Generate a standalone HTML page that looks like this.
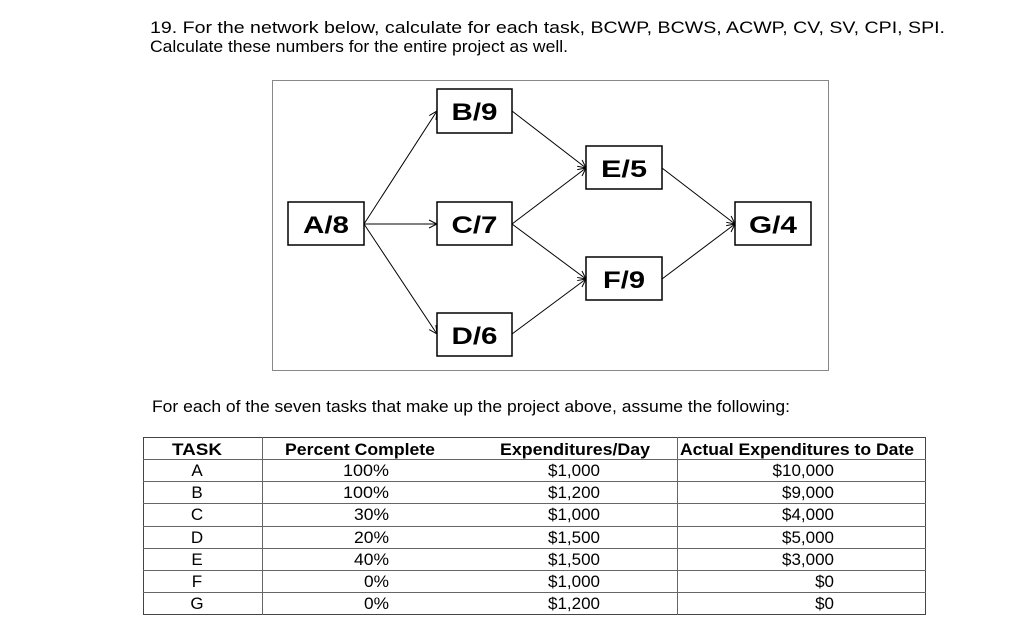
<!DOCTYPE html>
<html><head><meta charset="utf-8"><style>
html,body{margin:0;padding:0;background:#fff;}
svg{display:block;font-family:"Liberation Sans",Arial,sans-serif;}
</style></head><body>
<svg width="1024" height="634" viewBox="0 0 1024 634" xmlns="http://www.w3.org/2000/svg">
<defs><marker id="ar" markerWidth="10" markerHeight="10" refX="9" refY="5" orient="auto" markerUnits="userSpaceOnUse"><path d="M1,1 L9,5 L1,9" fill="none" stroke="#000" stroke-width="1"/></marker></defs>
<g font-size="17" fill="#000">
<text x="150" y="33" textLength="795" lengthAdjust="spacingAndGlyphs">19.  For the network below, calculate for each task, BCWP, BCWS, ACWP, CV, SV, CPI, SPI.</text>
<text x="150" y="52" textLength="418" lengthAdjust="spacingAndGlyphs">Calculate these numbers for the entire project as well.</text>
<text x="152" y="412" textLength="638" lengthAdjust="spacingAndGlyphs">For each of the seven tasks that make up the project above, assume the following:</text>
</g>
<rect x="272.5" y="80.5" width="556" height="290" fill="none" stroke="#888" stroke-width="1"/>
<g stroke="#000" stroke-width="1" fill="none" marker-end="url(#ar)">
<line x1="364" y1="224" x2="437" y2="111"/>
<line x1="364" y1="224" x2="437" y2="224"/>
<line x1="364" y1="224" x2="437" y2="334"/>
<line x1="512" y1="111" x2="586" y2="168"/>
<line x1="512" y1="224" x2="586" y2="168"/>
<line x1="512" y1="224" x2="586" y2="279"/>
<line x1="512" y1="334" x2="586" y2="279"/>
<line x1="662" y1="168" x2="735" y2="224"/>
<line x1="662" y1="279" x2="735" y2="224"/>
</g>
<g stroke="#000" stroke-width="1.5" fill="#fff">
<rect x="288" y="202" width="76" height="43"/>
<rect x="437" y="89" width="75" height="44"/>
<rect x="437" y="202" width="75" height="43"/>
<rect x="437" y="313" width="75" height="43"/>
<rect x="586" y="146" width="76" height="43"/>
<rect x="586" y="257" width="76" height="43"/>
<rect x="735" y="202" width="76" height="43"/>
</g>
<g font-size="24" font-weight="bold" text-anchor="middle">
<text x="326" y="233" textLength="46" lengthAdjust="spacingAndGlyphs">A/8</text>
<text x="474.5" y="120" textLength="46" lengthAdjust="spacingAndGlyphs">B/9</text>
<text x="474.5" y="233" textLength="46" lengthAdjust="spacingAndGlyphs">C/7</text>
<text x="474.5" y="344" textLength="46" lengthAdjust="spacingAndGlyphs">D/6</text>
<text x="624" y="177" textLength="46" lengthAdjust="spacingAndGlyphs">E/5</text>
<text x="624" y="288" textLength="42" lengthAdjust="spacingAndGlyphs">F/9</text>
<text x="773" y="233" textLength="48" lengthAdjust="spacingAndGlyphs">G/4</text>
</g>
<rect x="143.5" y="437.5" width="782" height="177" fill="none" stroke="#444" stroke-width="1"/>
<g stroke="#666" stroke-width="1">
<line x1="262.5" y1="437" x2="262.5" y2="615"/>
<line x1="677.5" y1="437" x2="677.5" y2="615"/>
<line x1="143" y1="459.5" x2="926" y2="459.5"/>
<line x1="143" y1="481.5" x2="926" y2="481.5"/>
<line x1="143" y1="503.5" x2="926" y2="503.5"/>
<line x1="143" y1="526.5" x2="926" y2="526.5"/>
<line x1="143" y1="548.5" x2="926" y2="548.5"/>
<line x1="143" y1="570.5" x2="926" y2="570.5"/>
<line x1="143" y1="592.5" x2="926" y2="592.5"/>
</g>
<g font-size="17" font-weight="bold" text-anchor="middle">
<text x="197" y="455" textLength="50" lengthAdjust="spacingAndGlyphs">TASK</text>
<text x="360" y="455" textLength="150" lengthAdjust="spacingAndGlyphs">Percent Complete</text>
<text x="575" y="455" textLength="150" lengthAdjust="spacingAndGlyphs">Expenditures/Day</text>
<text x="797" y="455" textLength="234" lengthAdjust="spacingAndGlyphs">Actual Expenditures to Date</text>
</g>
<g font-size="17" text-anchor="middle">
<text x="197" y="476">A</text><text x="197" y="498">B</text><text x="197" y="520">C</text><text x="197" y="543">D</text><text x="197" y="565">E</text><text x="197" y="587">F</text><text x="197" y="609">G</text>
</g>
<g font-size="17" text-anchor="end">
<text x="389" y="476" textLength="46" lengthAdjust="spacingAndGlyphs">100%</text><text x="389" y="498" textLength="46" lengthAdjust="spacingAndGlyphs">100%</text><text x="389" y="520" textLength="35" lengthAdjust="spacingAndGlyphs">30%</text><text x="389" y="543" textLength="35" lengthAdjust="spacingAndGlyphs">20%</text><text x="389" y="565" textLength="35" lengthAdjust="spacingAndGlyphs">40%</text><text x="389" y="587" textLength="25" lengthAdjust="spacingAndGlyphs">0%</text><text x="389" y="609" textLength="25" lengthAdjust="spacingAndGlyphs">0%</text>
<text x="600" y="476">$1,000</text><text x="600" y="498">$1,200</text><text x="600" y="520">$1,000</text><text x="600" y="543">$1,500</text><text x="600" y="565">$1,500</text><text x="600" y="587">$1,000</text><text x="600" y="609">$1,200</text>
<text x="834" y="476">$10,000</text><text x="834" y="498">$9,000</text><text x="834" y="520">$4,000</text><text x="834" y="543">$5,000</text><text x="834" y="565">$3,000</text><text x="834" y="587">$0</text><text x="834" y="609">$0</text>
</g>
</svg>
</body></html>
